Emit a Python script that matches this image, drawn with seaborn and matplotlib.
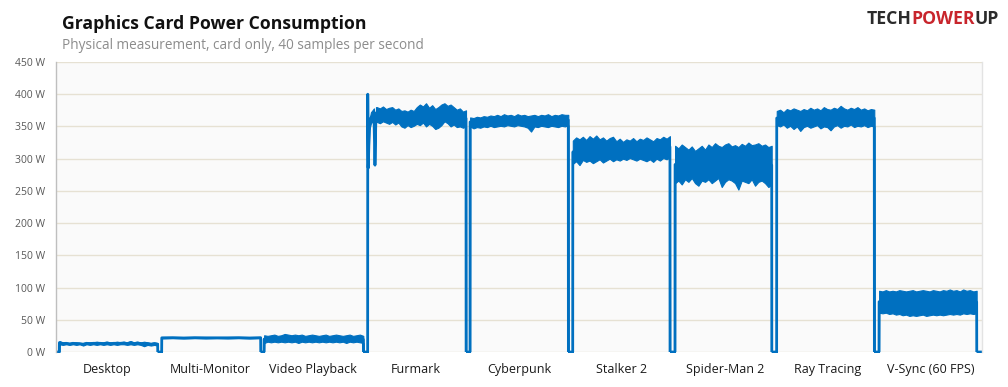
import numpy as np
import pandas as pd
import seaborn as sns
import matplotlib.pyplot as plt

# ---------------- data ----------------
categories = ["Desktop", "Multi-Monitor", "Video Playback", "Furmark", "Cyberpunk",
              "Stalker 2", "Spider-Man 2", "Ray Tracing", "V-Sync (60 FPS)"]
label_t = [50, 150, 250, 350, 450, 550, 650, 750, 850]
y_ticks = [0, 50, 100, 150, 200, 250, 300, 350, 400, 450]
y_labels = [f"{v} W" for v in y_ticks]

# time (s) where each test starts / ends
rise_t = [3.2, 102.7, 202.2, 302.9, 402.4, 502.2, 601.6, 700.4, 799.9]
fall_t = [98.8, 198.9, 298.7, 398.5, 497.9, 596.7, 695.6, 795.3, 894.8]
end_t = 900

# (low, high) envelope of the measured power, W
desktop = [(12, 17), (11, 15), (12, 15), (11, 14), (12, 15), (11, 15), (12, 14), (10, 14), (12, 15), (11, 15),
           (12, 15), (11, 16), (12, 15), (11, 15), (12, 16), (11, 15), (12, 15), (11, 16), (12, 15), (12, 16),
           (11, 15), (12, 17), (11, 15), (12, 16), (11, 15), (9, 16), (11, 15), (10, 14), (11, 15), (10, 14)]
multi_monitor = [(21, 23), (21.5, 23), (21, 22.5), (21.5, 23), (21, 23), (21.5, 22.5), (21, 23), (21.5, 23),
                 (21, 22.5), (21.5, 23)]
video = [(14, 26), (16, 25), (15, 26), (16, 27), (15, 25), (16, 26), (15, 28), (16, 27), (15, 26), (16, 27),
         (14, 26), (16, 27), (15, 25), (16, 26), (15, 27), (16, 26), (15, 25), (16, 26), (15, 27), (16, 25),
         (15, 26), (16, 27), (15, 26), (16, 25), (14, 26), (16, 27), (15, 25), (16, 26), (15, 27), (14, 25)]
# Furmark start-up transient: (time, low, high)
furmark_start = [(303.0, 400, 400), (303.5, 286, 286), (304.6, 345, 360), (306.1, 355, 372),
                 (309.0, 360, 378), (310.0, 290, 290), (311.0, 362, 380)]
furmark = [(357, 380), (355, 378), (358, 381), (356, 377), (354, 379), (357, 380), (353, 376), (356, 378),
           (350, 374), (348, 375), (352, 373), (349, 376), (351, 374), (354, 380), (352, 384), (356, 381),
           (350, 386), (354, 379), (351, 383), (346, 377), (348, 380), (352, 384), (358, 386), (355, 382),
           (350, 384), (353, 380), (349, 376), (350, 378), (348, 373), (350, 375)]
cyberpunk = [(350, 364), (347, 363), (349, 365), (348, 364), (350, 366), (349, 365), (351, 367), (349, 366),
             (350, 368), (351, 366), (350, 369), (352, 367), (351, 368), (350, 366), (352, 369), (351, 367),
             (350, 368), (348, 366), (342, 367), (350, 368), (349, 366), (351, 368), (350, 367), (349, 369),
             (351, 366), (350, 368), (349, 367), (351, 369), (350, 368), (352, 368)]
stalker2 = [(292, 328), (296, 333), (290, 330), (298, 334), (295, 329), (297, 335), (293, 331), (296, 336),
            (299, 330), (294, 333), (297, 328), (300, 332), (296, 334), (299, 327), (297, 331), (300, 326),
            (298, 330), (301, 328), (299, 332), (297, 327), (300, 331), (298, 329), (296, 333), (299, 330),
            (295, 327), (300, 332), (297, 330), (301, 334), (299, 331), (302, 335)]
spiderman2 = [(262, 320), (266, 316), (260, 322), (268, 318), (264, 314), (270, 319), (262, 312), (258, 316),
              (266, 320), (264, 314), (268, 322), (262, 318), (266, 324), (270, 320), (256, 318), (264, 322),
              (268, 324), (266, 319), (262, 321), (252, 318), (266, 323), (264, 320), (262, 325), (268, 321),
              (258, 322), (264, 324), (266, 320), (262, 322), (256, 318), (260, 320)]
ray_tracing = [(352, 374), (350, 376), (353, 372), (348, 377), (351, 375), (346, 378), (350, 376), (343, 374),
               (349, 377), (351, 375), (348, 379), (350, 376), (352, 378), (347, 375), (350, 380), (349, 377),
               (344, 376), (350, 379), (352, 377), (348, 382), (351, 378), (350, 376), (353, 379), (349, 377),
               (351, 380), (350, 376), (352, 378), (349, 375), (351, 377), (350, 376)]
vsync = [(61, 95), (60, 94), (61, 96), (59, 94), (60, 95), (58, 94), (59, 96), (57, 95), (58, 94), (56, 95),
         (57, 96), (56, 94), (57, 95), (58, 96), (56, 95), (57, 94), (58, 96), (57, 95), (58, 94), (57, 96),
         (58, 95), (59, 97), (58, 95), (59, 96), (58, 94), (60, 97), (59, 95), (60, 96), (59, 94), (60, 95)]

segments = [desktop, multi_monitor, video, furmark, cyberpunk, stalker2, spiderman2, ray_tracing, vsync]

# ---------------- long-form table ----------------
rows = []


def add(t, lo, hi):
    rows.append((t, lo))
    rows.append((t, hi))


add(0.0, 0, 0)
for i, seg in enumerate(segments):
    r, f = rise_t[i], fall_t[i]
    add(r, 0, 0)
    start = r + 0.1
    if i == 3:
        for (t, lo, hi) in furmark_start:
            add(t, lo, hi)
        start = furmark_start[-1][0] + 0.8
    ts = np.linspace(start, f, len(seg))
    for t, (lo, hi) in zip(ts, seg):
        add(t, lo, hi)
    add(f + 0.1, 0, 0)
add(end_t, 0, 0)

df = pd.DataFrame(rows, columns=["t", "W"])

# ---------------- style ----------------
sns.set_theme(style="white")
plt.rcParams["font.family"] = ["Open Sans", "DejaVu Sans"]

blue = "#0070C0"
fig = plt.figure(figsize=(10.08, 3.87), dpi=100)
ax = fig.add_axes([56 / 1008, 1 - 352 / 387, (982 - 56) / 1008, (352 - 62) / 387])
ax.set_facecolor("#fafafa")

sns.lineplot(data=df, x="t", y="W", estimator="mean", errorbar=("pi", 100),
             color=blue, linewidth=2.0, ax=ax,
             err_kws={"alpha": 1, "linewidth": 0.8, "edgecolor": blue, "facecolor": blue})

ax.set_xlim(0, end_t)
ax.set_ylim(0, 450)
ax.set_yticks(y_ticks)
ax.set_yticklabels(y_labels)
ax.set_xticks(label_t)
ax.set_xticklabels(categories)
ax.set_xlabel("")
ax.set_ylabel("")
ax.tick_params(axis="y", length=0, pad=8, labelsize=7.5, labelcolor="#595959")
ax.tick_params(axis="x", length=0, pad=8, labelsize=9, labelcolor="#1a1a1a")

ax.grid(axis="y", color="#e6e1d3", linewidth=1.0)
ax.set_axisbelow(True)
for side in ["top", "bottom"]:
    ax.spines[side].set_visible(False)
ax.spines["left"].set_color("#bfbfbf")
ax.spines["left"].set_linewidth(1.0)
ax.spines["right"].set_color("#e3e3e3")
ax.spines["right"].set_linewidth(1.0)

# ---------------- titles ----------------
fig.text(62 / 1008, 1 - 29 / 387, "Graphics Card Power Consumption", fontsize=12.7,
         fontweight="bold", color="#111111", va="baseline", ha="left")
fig.text(62 / 1008, 1 - 49 / 387, "Physical measurement, card only, 40 samples per second", fontsize=9.8,
         color="#8c8c8c", va="baseline", ha="left")

# logo
fig.canvas.draw()
renderer = fig.canvas.get_renderer()
x_px = 867
for txt, col in [("TECH", "#2b2b2b"), ("POWER", "#c8252c"), ("UP", "#2b2b2b")]:
    t = fig.text(x_px / 1008, 1 - 24 / 387, txt, fontsize=12.7, fontweight="bold", color=col,
                 va="baseline", ha="left")
    bb = t.get_window_extent(renderer)
    x_px = bb.x1 - 0.5

fig.savefig("out.png", dpi=100)
